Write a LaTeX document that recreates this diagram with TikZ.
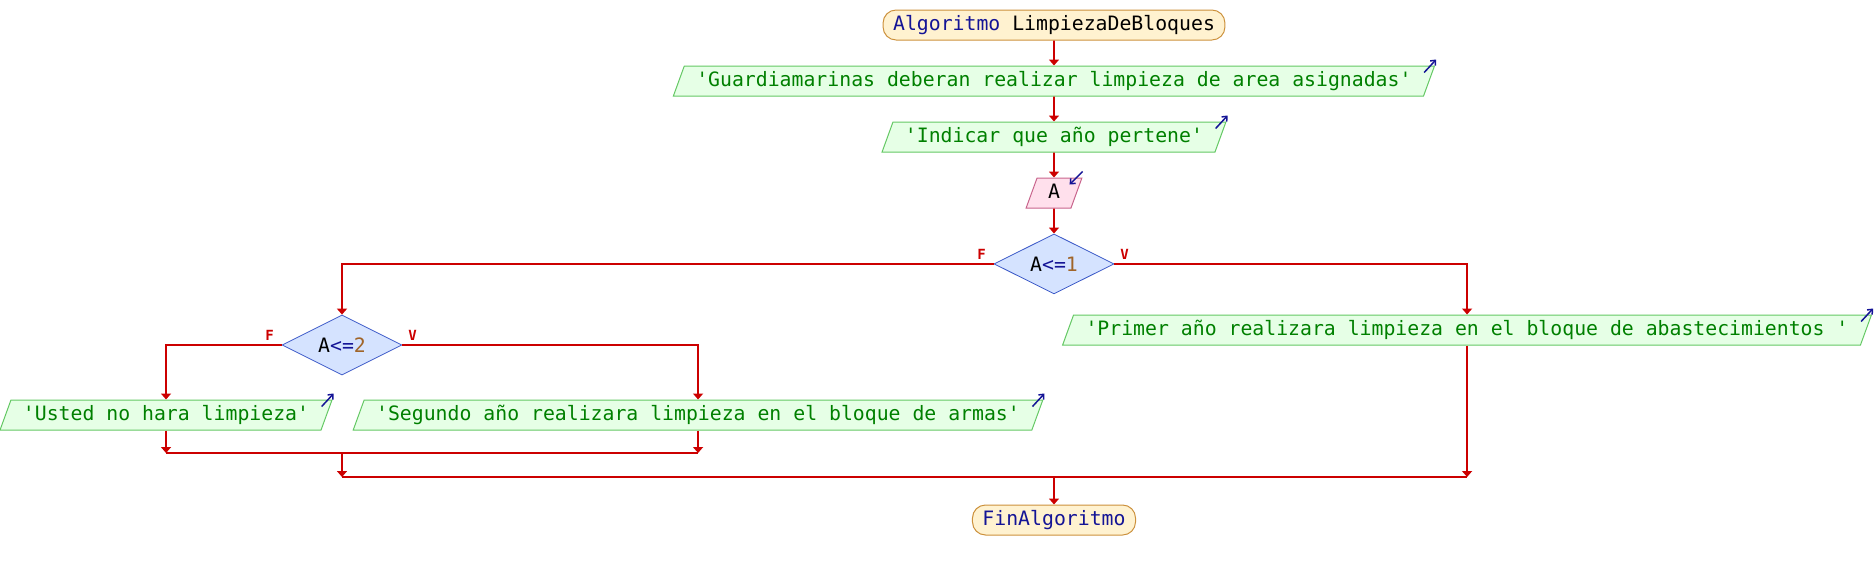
\documentclass[tikz,border=0pt]{standalone}
\usepackage{fontspec}
\newfontfamily\psfont[Ligatures=ResetAll]{DejaVu Sans Mono}
\usetikzlibrary{positioning, shapes.geometric, arrows.meta}
\definecolor{flow}{RGB}{204,0,0}
\definecolor{termfill}{RGB}{255,242,208}
\definecolor{termdraw}{RGB}{204,145,60}
\definecolor{kw}{RGB}{20,20,150}
\definecolor{outfill}{RGB}{230,255,230}
\definecolor{outdraw}{RGB}{100,200,100}
\definecolor{outtext}{RGB}{0,128,0}
\definecolor{infill}{RGB}{255,224,236}
\definecolor{indraw}{RGB}{200,100,140}
\definecolor{condfill}{RGB}{213,227,255}
\definecolor{conddraw}{RGB}{60,90,200}
\definecolor{num}{RGB}{160,100,40}

\begin{document}
\begin{tikzpicture}[x=1pt, y=-1pt, -{Triangle[length=6pt,width=10pt]}, line width=1.8pt, flow,
	font={\psfont\fontsize{19.8}{24}\selectfont},
	term/.style={rectangle, rounded corners=13pt, draw=termdraw, fill=termfill, line width=1pt, text=kw, text height=14pt, text depth=4pt, inner xsep=10pt, inner ysep=6pt},
	outbox/.style={trapezium, trapezium left angle=70, trapezium right angle=110, draw=outdraw, fill=outfill, line width=1pt, text=outtext, text height=14pt, text depth=4pt, inner xsep=12pt, inner ysep=6pt},
	inbox/.style={outbox, draw=indraw, fill=infill, text=black, inner xsep=11pt},
	cond/.style={diamond, aspect=2, draw=conddraw, fill=condfill, line width=0.8pt, text=black, minimum width=120pt, minimum height=60pt, inner sep=0pt},
	flag/.style={font={\psfont\bfseries\fontsize{14}{16}\selectfont}, text=flow, inner sep=1pt},
	icon/.style={-{Straight Barb[length=4pt,width=7pt]}, line width=1.5pt, draw=kw}]
	\useasboundingbox (0,0) rectangle (1876,570);

	\node[term] (start) at (1054,25) {Algoritmo \textcolor{black}{LimpiezaDeBloques}};
	\node[outbox, below=25pt of start] (msg1) {'Guardiamarinas deberan realizar limpieza de area asignadas'};
	\node[outbox, below=25pt of msg1] (msg2) {'Indicar que año pertene'};
	\node[inbox, below=25pt of msg2] (reada) {A};
	\node[cond, below=25pt of reada] (cond1) {A\textcolor{kw}{<=}\textcolor{num}{1}};
	\node[cond] (cond2) at (342,345) {A\textcolor{kw}{<=}\textcolor{num}{2}};
	\node[outbox] (primer) at (1467,330) {'Primer año realizara limpieza en el bloque de abastecimientos '};
	\node[outbox] (usted) at (166,415) {'Usted no hara limpieza'};
	\node[outbox] (segundo) at (698,415) {'Segundo año realizara limpieza en el bloque de armas'};
	\node[term] (fin) at (1054,520) {FinAlgoritmo};
	\coordinate (join2) at (342,453);
	\coordinate (join1) at (342,477);

	\draw[icon] ([shift={(-11,7)}]msg1.top right corner) -- ++(12,-13);
	\draw[icon] ([shift={(-11,7)}]msg2.top right corner) -- ++(12,-13);
	\draw[icon] ([shift={(-11,7)}]primer.top right corner) -- ++(12,-13);
	\draw[icon] ([shift={(-11,7)}]usted.top right corner) -- ++(12,-13);
	\draw[icon] ([shift={(-11,7)}]segundo.top right corner) -- ++(12,-13);
	\draw[icon] ([shift={(0,-6)}]reada.top right corner) -- ++(-13,13);

	\draw (start) -- (msg1);
	\draw (msg1) -- (msg2);
	\draw (msg2) -- (reada);
	\draw (reada) -- (cond1);
	\draw (cond1.west) node[flag, above left=3pt and 6pt] {F} -| (cond2.north);
	\draw (cond1.east) node[flag, above right=3pt and 4pt] {V} -| (primer.north);
	\draw (cond2.west) node[flag, above left=3pt and 6pt] {F} -| (usted.north);
	\draw (cond2.east) node[flag, above right=3pt and 4pt] {V} -| (segundo.north);

	\draw (usted.south) -- (usted.south |- join2);
	\draw (segundo.south) -- (segundo.south |- join2);
	\draw[-] (usted.south |- join2) -- (segundo.south |- join2);
	\draw (join2) -- (join1);
	\draw (primer.south) -- (primer.south |- join1);
	\draw[-] (join1) -- (primer.south |- join1);
	\draw (fin |- join1) -- (fin);
\end{tikzpicture}
\end{document}
